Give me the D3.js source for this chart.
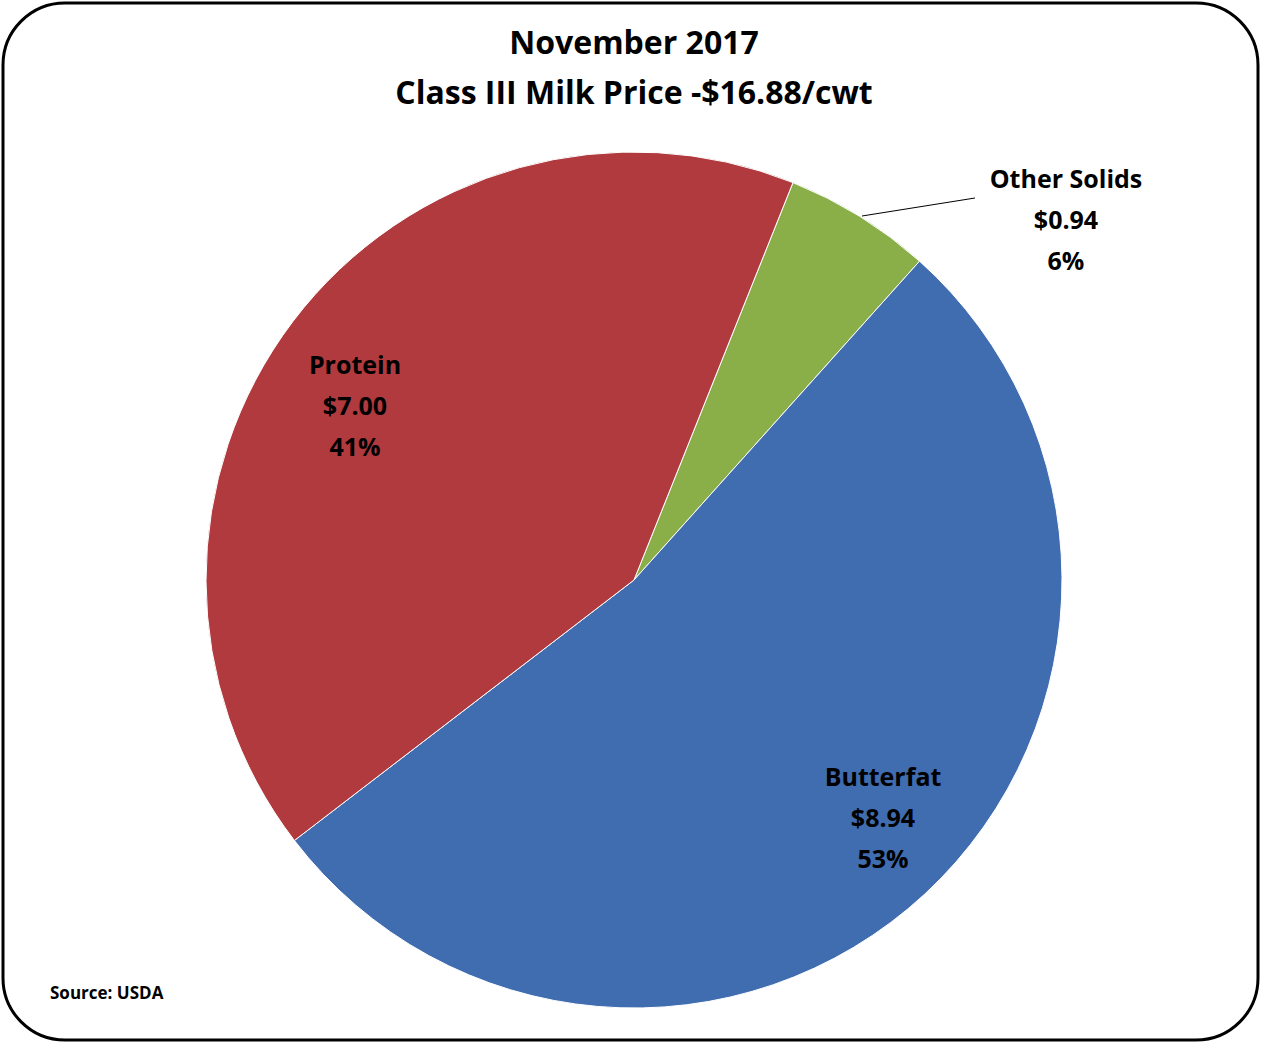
<!DOCTYPE html>
<html><head><meta charset="utf-8">
<script src="https://cdn.jsdelivr.net/npm/d3@7"></script>
<style>body{margin:0;background:#fff}</style></head>
<body><div id="chart"></div>
<script>
const names = ["Other Solids", "Butterfat", "Protein"];
const prices = [0.94, 8.94, 7.00];
const percents = ["6%", "53%", "41%"];
const colours = ["#8AAF48", "#406CB0", "#B03A3E"];

const width = 1261, height = 1043;
const cx = 634, cy = 580, r = 428;
const font = "'Open Sans', sans-serif";

const svg = d3.select("#chart").append("svg")
  .attr("width", width).attr("height", height);

svg.append("rect")
  .attr("x", 3).attr("y", 3).attr("width", 1255).attr("height", 1037)
  .attr("rx", 62).attr("fill", "#fff").attr("stroke", "#000").attr("stroke-width", 3);

const title = svg.append("text").attr("text-anchor", "middle")
  .attr("font-family", font).attr("font-weight", "bold").attr("font-size", 32);
title.append("tspan").attr("x", 634).attr("y", 54).text("November 2017");
title.append("tspan").attr("x", 634).attr("y", 104).text("Class III Milk Price -$16.88/cwt");

const start = 21.8 * Math.PI / 180;
const pie = d3.pie().sort(null).value(d => d)
  .startAngle(start).endAngle(start + 2 * Math.PI);
const arcs = pie(prices);
const arc = d3.arc().innerRadius(0).outerRadius(r);

const g = svg.append("g").attr("transform", `translate(${cx},${cy})`);
g.selectAll("path").data(arcs).enter().append("path")
  .attr("d", arc)
  .attr("fill", (d, i) => colours[i])
  .attr("stroke", "#fff").attr("stroke-width", 1);

// label positions (relative to centre)
const labelPos = [[432, -392], [249, 206], [-279, -206]];

g.append("line")
  .attr("x1", 228).attr("y1", -364).attr("x2", 341).attr("y2", -382)
  .attr("stroke", "#000").attr("stroke-width", 1);

arcs.forEach((d, i) => {
  const t = g.append("text").attr("text-anchor", "middle")
    .attr("font-family", font).attr("font-weight", "bold").attr("font-size", 25);
  const [x, y] = labelPos[i];
  [names[i], "$" + prices[i].toFixed(2), percents[i]].forEach((s, k) => {
    t.append("tspan").attr("x", x).attr("y", y + k * 41).text(s);
  });
});

svg.append("text").attr("x", 50).attr("y", 999)
  .attr("font-family", font).attr("font-weight", "bold").attr("font-size", 17)
  .text("Source: USDA");
</script></body></html>
